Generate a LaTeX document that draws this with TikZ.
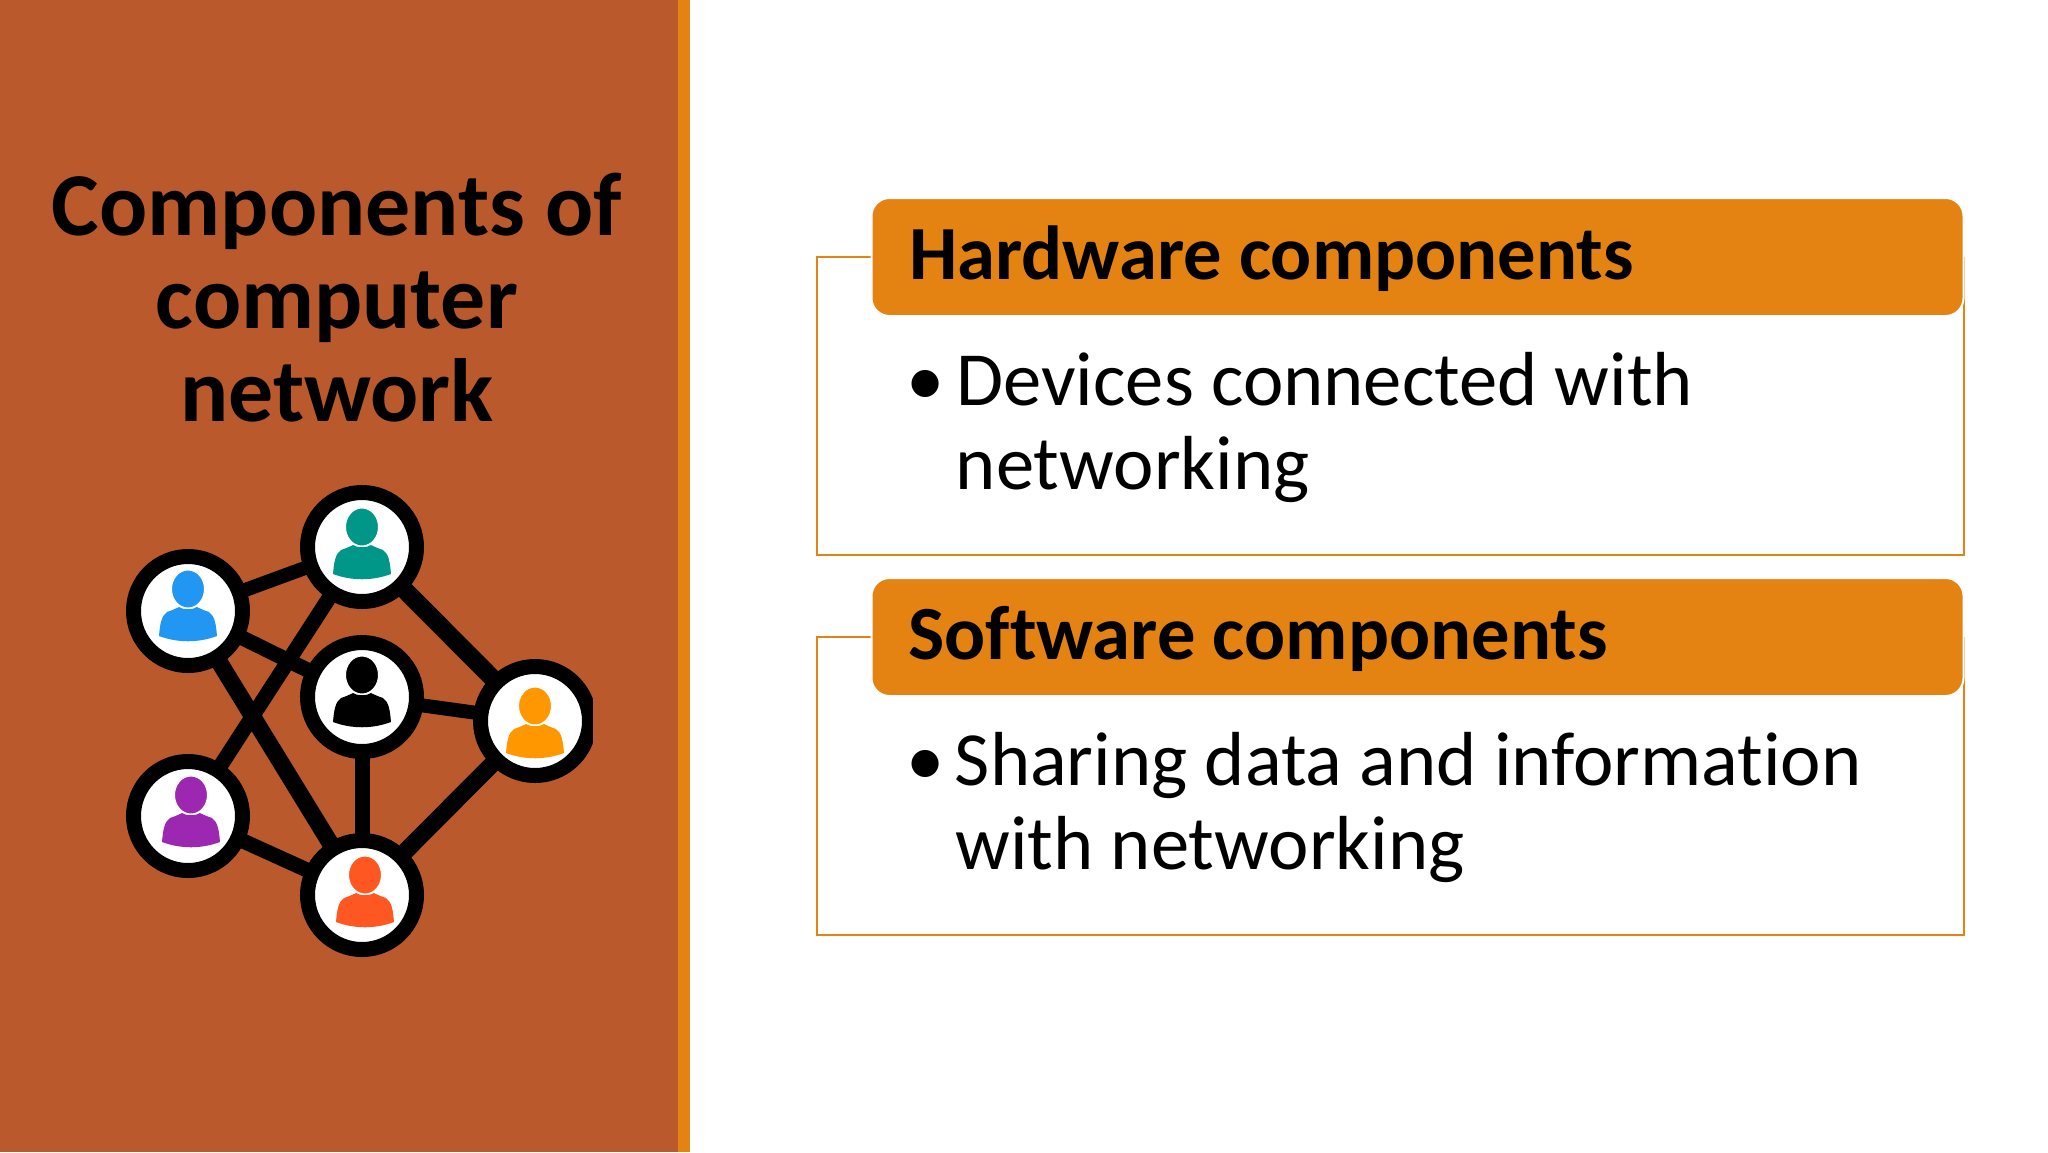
\documentclass[tikz,border=0pt]{standalone}
\usepackage{fontspec}
\setmainfont[Ligatures=NoCommon]{Carlito}
\definecolor{panelbrown}{HTML}{B9592C}
\definecolor{accent}{HTML}{E48312}
\definecolor{ptblue}{HTML}{2196F3}
\definecolor{ptteal}{HTML}{009688}
\definecolor{ptorange}{HTML}{FF9800}
\definecolor{ptpurple}{HTML}{9C27B0}
\definecolor{ptred}{HTML}{FF5722}
\tikzset{
  px/.style={x=0.5pt,y=-0.5pt},
  netnode/.style={circle,draw=black,fill=white,line width=7.5pt,minimum size=54.5pt,inner sep=0pt,outer sep=2pt},
  netline/.style={draw=black},
  headbox/.style={rectangle,rounded corners=9pt,fill=accent,draw=white,line width=1pt,minimum width=546pt,minimum height=59pt,inner sep=0pt},
  bracket/.style={draw=accent,line width=1pt},
  headtext/.style={anchor=base west,inner sep=0pt,font=\fontsize{38.3}{44}\selectfont\bfseries},
  bodytext/.style={anchor=base west,inner sep=0pt,font=\fontsize{38.3}{44}\selectfont},
  titletext/.style={anchor=base,inner sep=0pt,font=\fontsize{44.9}{50}\selectfont\bfseries},
  person/.pic={
    \fill[#1] (-29,26) .. controls (-28,15) and (-27,6) .. (-21,2) .. controls (-15,0) and (-11,-2) .. (-9,-3) .. controls (-5,0) and (5,0) .. (9,-3) .. controls (11,-2) and (15,0) .. (21,2) .. controls (27,6) and (28,15) .. (29,26) .. controls (10,33) and (-10,33) .. cycle;
    \filldraw[fill=#1,draw=white,line width=0.5pt] (0,-21) ellipse [x radius=16.5,y radius=19];
  }
}
\begin{document}
\begin{tikzpicture}[px]
\useasboundingbox (0,0) rectangle (2048,1152);
\fill[white] (0,0) rectangle (2048,1152);
\fill[panelbrown] (0,0) rectangle (678,1152);
\fill[accent] (678,0) rectangle (690,1152);
% title
\node[titletext] (t1) at (337,235) {Components of};
\node[titletext] (t2) at (337,328) {computer};
\node[titletext] (t3) at (337,421) {network};
% network
\node[netnode] (teal) at (362,547) {};
\node[netnode] (blue) at (188,611) {};
\node[netnode] (blk) at (362,697) {};
\node[netnode] (org) at (535,721) {};
\node[netnode] (pur) at (188,816) {};
\node[netnode] (red) at (362,895) {};
\foreach \a/\b/\w in {blue/teal/7,blue/blk/7.5,blue/red/8.5,teal/pur/7.5,teal/org/9,blk/org/7,blk/red/7.5,org/red/8.5,pur/red/7.5}
  \draw[netline,line width=\w pt] (\a) -- (\b);
\fill[panelbrown] (593,650) rectangle (605,790);
\pic at (362,548) {person=ptteal};
\pic at (188,610) {person=ptblue};
\pic at (362,696) {person=black};
\pic at (535,727) {person=ptorange};
\pic at (191,816) {person=ptpurple};
\pic at (365,896) {person=ptred};
% first group
\coordinate (c1a) at (817,257);
\coordinate (c1b) at (817,555);
\coordinate (c1c) at (1964,555);
\coordinate (c1d) at (1964,257);
\node[headbox] (h1) at (1417.5,257) {};
\draw[bracket] (h1.west) -- (c1a) -- (c1b) -- (c1c) -- (c1d);
\node[headbox] at (h1) {};
\node[headtext] (h1t) at (909,279.5) {Hardware components};
\node[bodytext] (b1d) at (906,405.5) {•};
\node[bodytext] (b1a) at (956,405.5) {Devices connected with};
\node[bodytext] (b1b) at (955.5,489.5) {networking};
% second group
\coordinate (c2a) at (817,637);
\coordinate (c2b) at (817,935);
\coordinate (c2c) at (1964,935);
\coordinate (c2d) at (1964,637);
\node[headbox] (h2) at (1417.5,637) {};
\draw[bracket] (h2.west) -- (c2a) -- (c2b) -- (c2c) -- (c2d);
\node[headbox] at (h2) {};
\node[headtext] (h2t) at (908,659.5) {Software components};
\node[bodytext] (b2d) at (906,785.5) {•};
\node[bodytext] (b2a) at (954.5,785.5) {Sharing data and information};
\node[bodytext] (b2b) at (955,869.5) {with networking};
\end{tikzpicture}
\end{document}
